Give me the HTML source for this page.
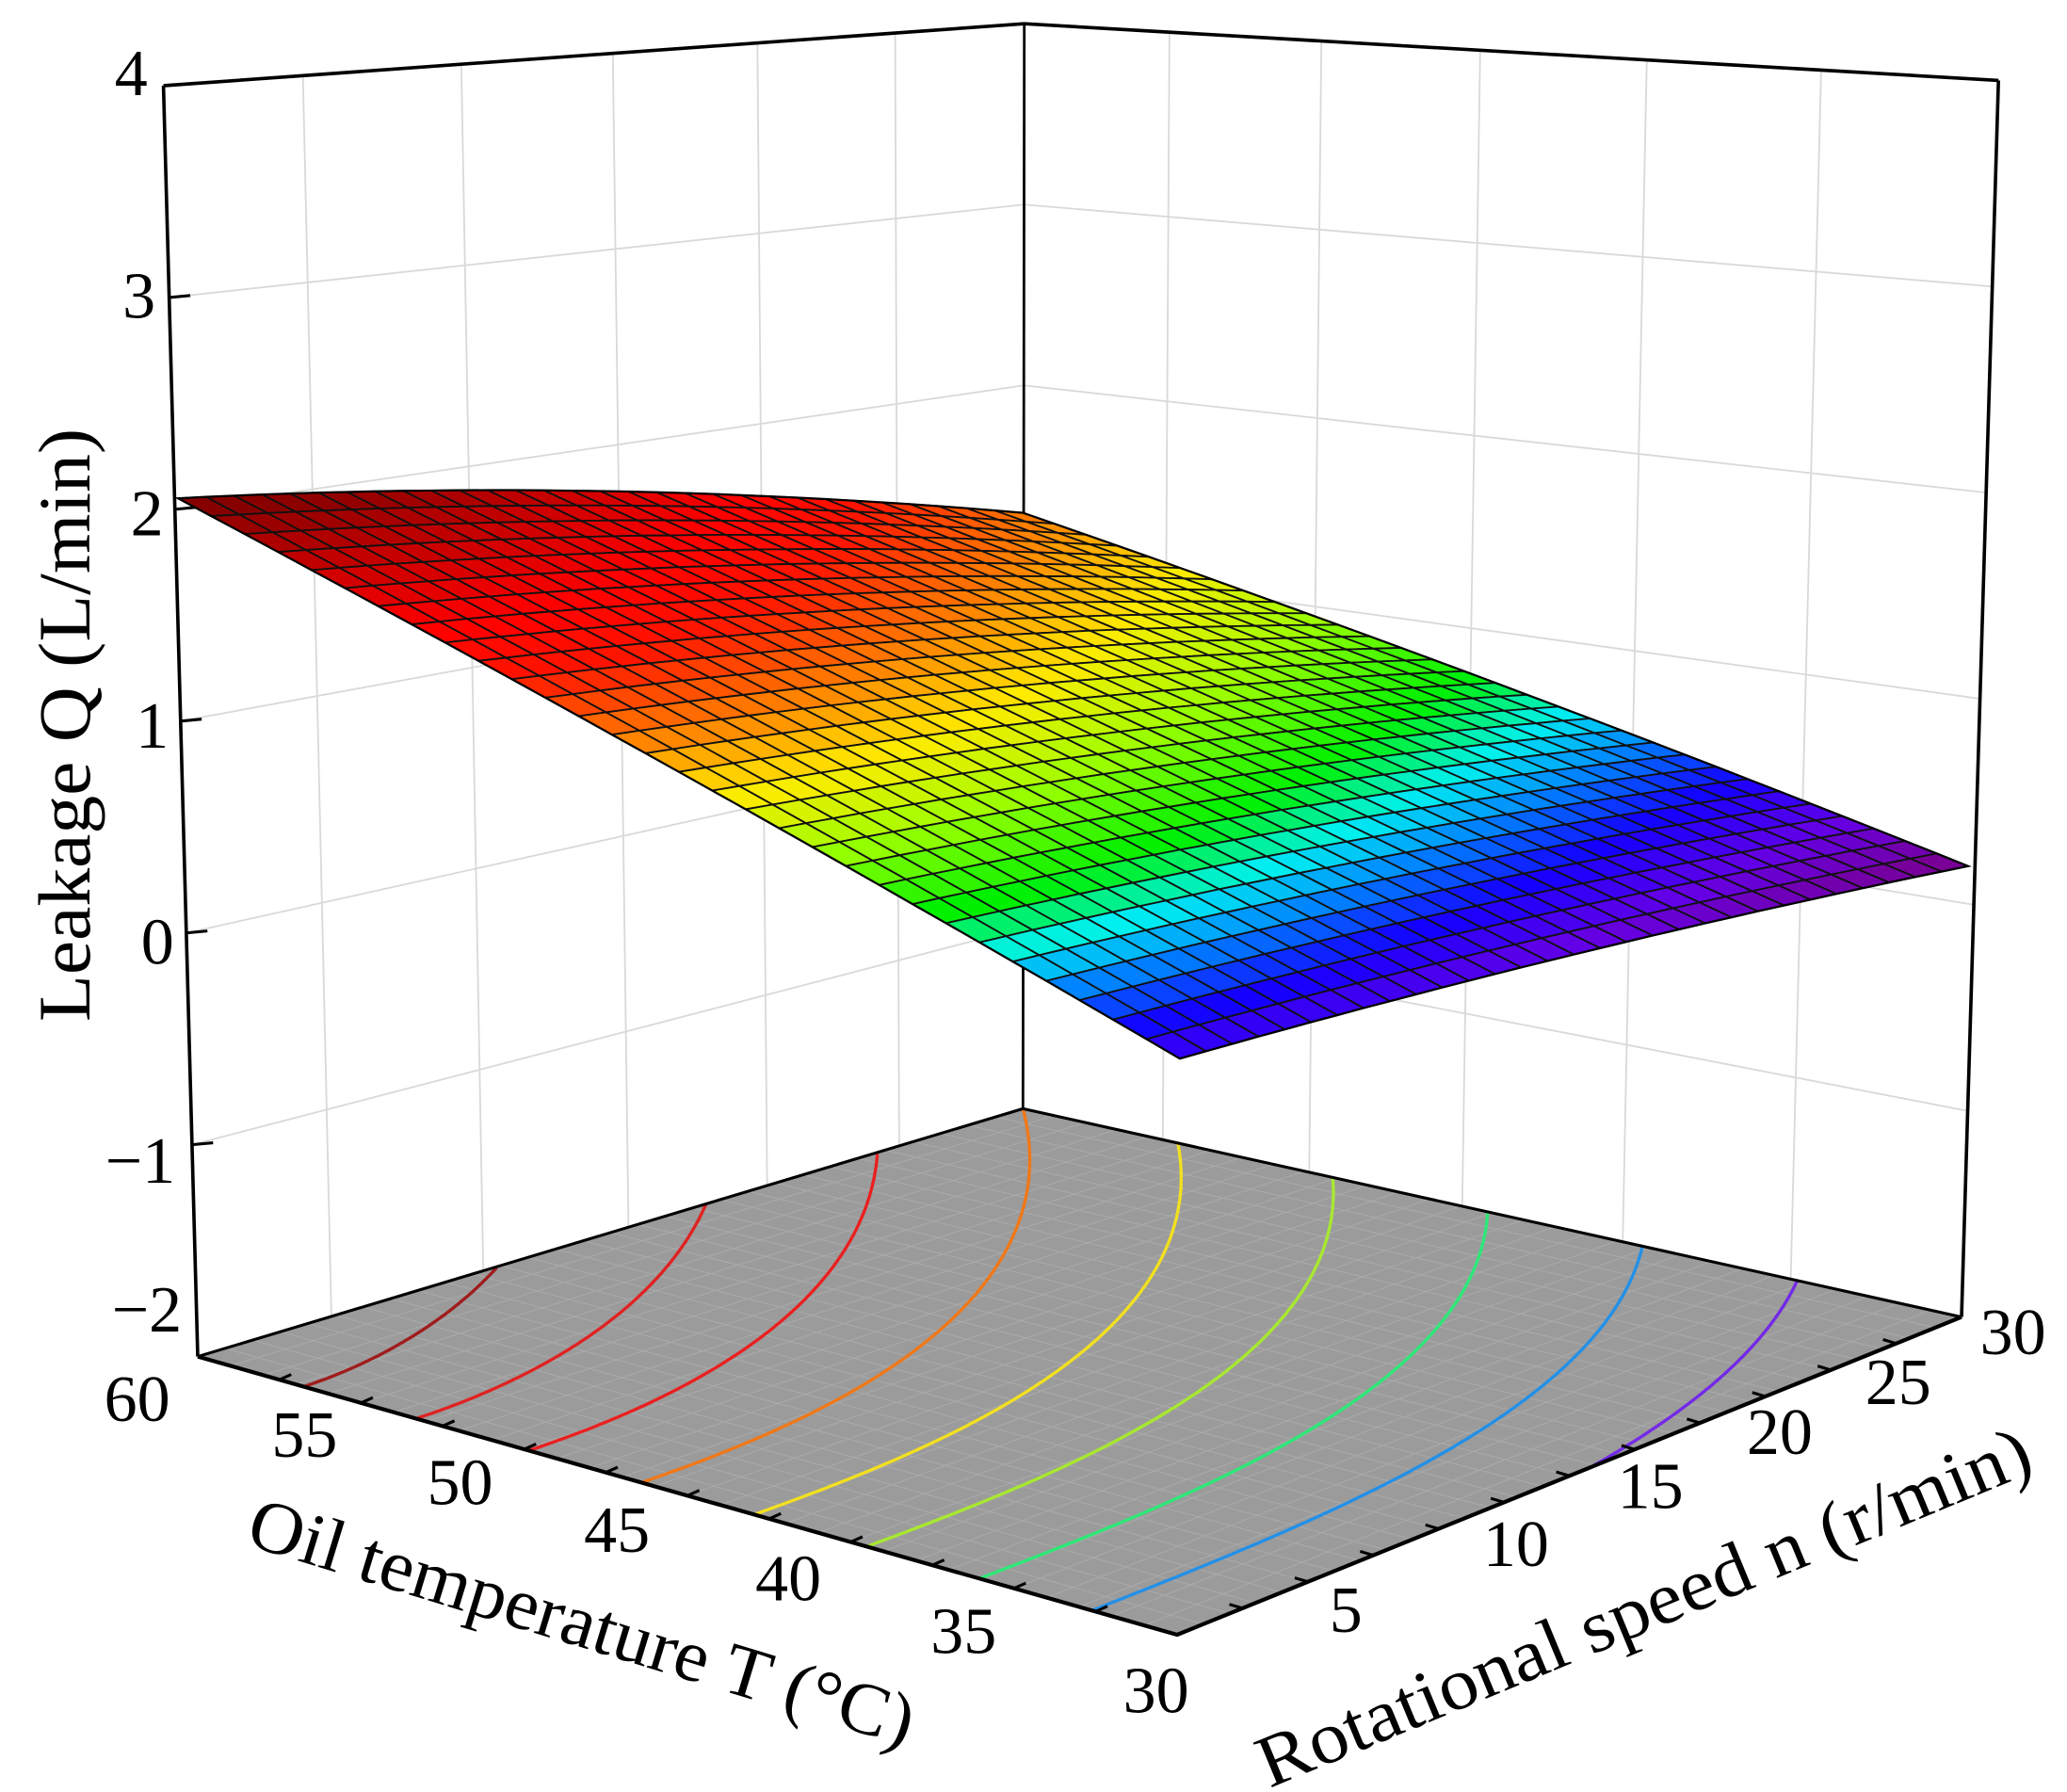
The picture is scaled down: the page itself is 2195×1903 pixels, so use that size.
<!DOCTYPE html>
<html><head><meta charset="utf-8">
<style>
html,body{margin:0;padding:0;background:#fff;}
svg{display:block;}
text{font-family:"Liberation Serif","Times New Roman",serif;fill:#000;}
</style></head>
<body>
<svg id="s" width="2195" height="1903" viewBox="0 0 1568 1359.3" preserveAspectRatio="none" xmlns="http://www.w3.org/2000/svg">
<rect x="0" y="0" width="1568" height="1360" fill="#fff"/>
<g id="walls"></g>
<g id="floor"></g>
<g id="cont"></g>
<g id="axes"></g>
<g id="surf"></g>
<g id="labels" font-family="Liberation Serif, serif">
<text x="112" y="72" font-size="50" text-anchor="end">4</text>
<text x="118" y="241" font-size="50" text-anchor="end">3</text>
<text x="124" y="406" font-size="50" text-anchor="end">2</text>
<text x="128" y="567" font-size="50" text-anchor="end">1</text>
<text x="132" y="731" font-size="50" text-anchor="end">0</text>
<text x="133" y="897" font-size="50" text-anchor="end">−1</text>
<text x="138" y="1010" font-size="50" text-anchor="end">−2</text>
<text x="104" y="1078" font-size="50" text-anchor="middle">60</text>
<text x="231" y="1105" font-size="50" text-anchor="middle">55</text>
<text x="349" y="1141" font-size="50" text-anchor="middle">50</text>
<text x="468" y="1177" font-size="50" text-anchor="middle">45</text>
<text x="598" y="1214" font-size="50" text-anchor="middle">40</text>
<text x="731" y="1254" font-size="50" text-anchor="middle">35</text>
<text x="877" y="1299" font-size="50" text-anchor="middle">30</text>
<text x="1021" y="1238" font-size="50" text-anchor="middle">5</text>
<text x="1150" y="1188" font-size="50" text-anchor="middle">10</text>
<text x="1252" y="1144" font-size="50" text-anchor="middle">15</text>
<text x="1350" y="1103" font-size="50" text-anchor="middle">20</text>
<text x="1440" y="1065" font-size="50" text-anchor="middle">25</text>
<text x="1527" y="1027" font-size="50" text-anchor="middle">30</text>
<text transform="translate(68,550) rotate(-90)" font-size="56" text-anchor="middle" textLength="450" lengthAdjust="spacingAndGlyphs">Leakage Q (L/min)</text>
<text transform="translate(436,1248) rotate(17)" font-size="56" text-anchor="middle" textLength="525" lengthAdjust="spacingAndGlyphs">Oil temperature T (°C)</text>
<text transform="translate(1254,1236) rotate(-22.5)" font-size="56" text-anchor="middle" textLength="630" lengthAdjust="spacingAndGlyphs">Rotational speed n (r/min)</text>
</g>
</svg>
<script>
(function(){
var NS="http://www.w3.org/2000/svg";
function el(p,tag,at){var e=document.createElementNS(NS,tag);for(var k in at)e.setAttribute(k,at[k]);p.appendChild(e);return e;}
function lerp(a,b,t){return [a[0]+(b[0]-a[0])*t,a[1]+(b[1]-a[1])*t];}
var W=document.getElementById('walls'),FL=document.getElementById('floor'),C=document.getElementById('cont'),AX=document.getElementById('axes'),S=document.getElementById('surf');
var TL=[124,65],TM=[777,18],TR=[1516,61];
var L=[150,1029],B=[776,841],R=[1488,999],F=[893,1240];
var gc="#d9d9d9";
[0.162,0.346,0.522,0.69,0.85].forEach(function(f){var a=lerp(TL,TM,f),b=lerp(L,B,f);el(W,'line',{x1:a[0],y1:a[1],x2:b[0],y2:b[1],stroke:gc,'stroke-width':1.3});});
[0.149,0.305,0.468,0.639,0.818].forEach(function(f){var a=lerp(TM,TR,f),b=lerp(B,R,f);el(W,'line',{x1:a[0],y1:a[1],x2:b[0],y2:b[1],stroke:gc,'stroke-width':1.3});});
for(var z=3;z>=-1;z--){var f=(4-z)/6;var a=lerp(TL,L,f),m=lerp(TM,B,f),r=lerp(TR,R,f);
 el(W,'polyline',{points:a.join(',')+' '+m.join(',')+' '+r.join(','),fill:'none',stroke:gc,'stroke-width':1.3});
 el(AX,'line',{x1:a[0],y1:a[1],x2:a[0]+16,y2:a[1]-1.5,stroke:'#000','stroke-width':2.2});
}
function FP(s,w){var p=lerp(L,B,s),q=lerp(F,R,s);return lerp(p,q,w);}
el(FL,'polygon',{points:[L,B,R,F].map(function(p){return p.join(',')}).join(' '),fill:'#9b9b9b'});
for(var i=1;i<30;i++){var f=i/30;
 var a=FP(f,0),b=FP(f,1);el(FL,'line',{x1:a[0],y1:a[1],x2:b[0],y2:b[1],stroke:'#a9a9a9','stroke-width':0.8});
 a=FP(0,f);b=FP(1,f);el(FL,'line',{x1:a[0],y1:a[1],x2:b[0],y2:b[1],stroke:'#a9a9a9','stroke-width':0.8});}
var ccol=['#a01c1c','#e02222','#ea2020','#f07818','#f2e020','#a8e830','#2ee878','#2290e8','#7428e8'];
for(var k=0;k<9;k++){var p=1.7+0.175*k,pts=[];
 for(var j=0;j<=200;j++){var s=j/200,a=Math.pow(s,p);var w=(1-a)*(0.108+0.115*k)+a*(0.165*k-0.495);
  if(w>=0&&w<=1){pts.push(FP(s,w).map(function(v){return v.toFixed(1)}).join(','));}}
 el(C,'polyline',{points:pts.join(' '),fill:'none',stroke:ccol[k],'stroke-width':2.4});}
var bk={stroke:'#000','stroke-width':2.6,fill:'none','stroke-linejoin':'miter'};
el(AX,'polyline',Object.assign({points:[TL,TM,TR].map(function(p){return p.join(',')}).join(' ')},bk));
el(AX,'line',Object.assign({x1:TL[0],y1:TL[1],x2:L[0],y2:L[1]},bk));
el(AX,'line',Object.assign({x1:TM[0],y1:TM[1],x2:B[0],y2:B[1]},bk,{'stroke-width':2}));
el(AX,'line',Object.assign({x1:TR[0],y1:TR[1],x2:R[0],y2:R[1]},bk));
el(AX,'polyline',Object.assign({points:[L,B,R].map(function(p){return p.join(',')}).join(' ')},bk,{'stroke-width':2.2}));
el(AX,'polyline',Object.assign({points:[L,F,R].map(function(p){return p.join(',')}).join(' ')},bk,{'stroke-width':3}));
for(var i=1;i<12;i++){var a=lerp(L,F,i/12);el(AX,'line',{x1:a[0],y1:a[1],x2:a[0]+9,y2:a[1]-4,stroke:'#000','stroke-width':2.2});
 var b=lerp(F,R,i/12);el(AX,'line',{x1:b[0],y1:b[1],x2:b[0]-10,y2:b[1]-3,stroke:'#000','stroke-width':2.2});}
var SL=[135,378],SB=[776,389],SR=[1493,657],SF=[895,803];
function SP(s,w){var p=lerp(SL,SB,s),q=lerp(SF,SR,s),r=lerp(p,q,w);
 r[1]-=4*s*(1-s)*(11*(1-w)+6*w)+4*w*(1-w)*5;return r;}
function K(s,w){var a=Math.pow(s,1.9);return (w-0.108+0.603*a)/(0.115+0.05*a)+0.7*w*w;}
function colr(k){
 var stops=[[-1,[120,0,0]],[0.2,[200,0,0]],[1.2,[255,0,0]],[2,[255,20,0]],[3,[255,120,0]],[4,[255,235,0]],[5,[150,255,0]],[6,[0,240,0]],[6.7,[0,240,240]],[7.3,[0,130,255]],[8,[20,0,255]],[8.8,[100,0,230]],[9.6,[120,0,150]]];
 if(k<=stops[0][0])return 'rgb('+stops[0][1]+')';
 for(var i=1;i<stops.length;i++){if(k<=stops[i][0]){var t=(k-stops[i-1][0])/(stops[i][0]-stops[i-1][0]);var c=stops[i-1][1].map(function(v,j){return Math.round(v+(stops[i][1][j]-v)*t)});return 'rgb('+c+')';}}
 return 'rgb('+stops[stops.length-1][1]+')';}
var N=30,M=30,buf=[];
for(var i=0;i<N;i++){for(var j=0;j<M;j++){
 var s0=i/N,s1=(i+1)/N,w0=j/M,w1=(j+1)/M;
 var pts=[SP(s0,w0),SP(s1,w0),SP(s1,w1),SP(s0,w1)].map(function(p){return p[0].toFixed(1)+','+p[1].toFixed(1)}).join(' ');
 buf.push('<polygon points="'+pts+'" fill="'+colr(K((s0+s1)/2,(w0+w1)/2))+'" stroke="#111" stroke-width="1.3" stroke-linejoin="round"/>');}}
S.innerHTML=buf.join('');
var edge=[];for(var i=0;i<=N;i++)edge.push(SP(i/N,0));for(var j=0;j<=M;j++)edge.push(SP(1,j/M));for(var i=N;i>=0;i--)edge.push(SP(i/N,1));for(var j=M;j>=0;j--)edge.push(SP(0,j/M));
el(S,'polygon',{points:edge.map(function(p){return p[0].toFixed(1)+','+p[1].toFixed(1)}).join(' '),fill:'none',stroke:'#000','stroke-width':1.6});
})();
</script>
</body></html>
